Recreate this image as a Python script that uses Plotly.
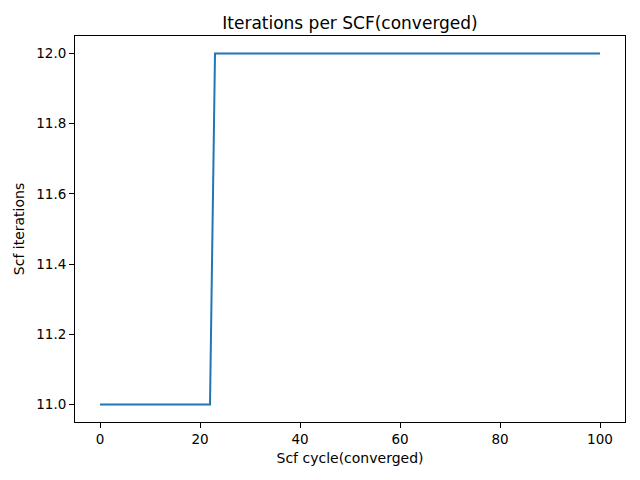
import plotly.graph_objects as go

# scf cycle index and iterations needed per converged scf
scf_cycle = list(range(101))
scf_iterations = [
    11, 11, 11, 11, 11, 11, 11, 11, 11, 11,
    11, 11, 11, 11, 11, 11, 11, 11, 11, 11,
    11, 11, 11, 12, 12, 12, 12, 12, 12, 12,
    12, 12, 12, 12, 12, 12, 12, 12, 12, 12,
    12, 12, 12, 12, 12, 12, 12, 12, 12, 12,
    12, 12, 12, 12, 12, 12, 12, 12, 12, 12,
    12, 12, 12, 12, 12, 12, 12, 12, 12, 12,
    12, 12, 12, 12, 12, 12, 12, 12, 12, 12,
    12, 12, 12, 12, 12, 12, 12, 12, 12, 12,
    12, 12, 12, 12, 12, 12, 12, 12, 12, 12,
    12,
]

fig = go.Figure()
fig.add_trace(go.Scatter(
    x=scf_cycle,
    y=scf_iterations,
    mode='lines',
    line=dict(color='#1f77b4', width=2),
    showlegend=False,
))

axis_style = dict(
    showgrid=False,
    zeroline=False,
    showline=True,
    linecolor='black',
    linewidth=1,
    mirror=True,
    ticks='outside',
    ticklen=5,
    tickwidth=1,
    tickcolor='black',
    automargin=False,
    tickfont=dict(family='DejaVu Sans', size=13.5, color='black'),
)

fig.update_xaxes(
    range=[-5, 105],
    tickvals=[0, 20, 40, 60, 80, 100],
    title=dict(text='Scf cycle(converged)', font=dict(family='DejaVu Sans', size=14, color='black'), standoff=6),
    **axis_style
)
fig.update_yaxes(
    range=[10.95, 12.05],
    tickvals=[11.0, 11.2, 11.4, 11.6, 11.8, 12.0],
    tickformat='.1f',
    title=dict(text='Scf iterations', font=dict(family='DejaVu Sans', size=14, color='black'), standoff=8),
    **axis_style
)

# page has a small body margin, so the figure is a bit smaller and margins compensate
fig.update_layout(
    width=632,
    height=472,
    plot_bgcolor='white',
    paper_bgcolor='white',
    margin=dict(l=67, r=15, t=28, b=58),
    title=dict(
        text='Iterations per SCF(converged)',
        x=0.5,
        xref='paper',
        xanchor='center',
        y=1,
        yref='paper',
        yanchor='bottom',
        pad=dict(b=7),
        font=dict(family='DejaVu Sans', size=17, color='black'),
    ),
)

fig.write_html("out.html")
